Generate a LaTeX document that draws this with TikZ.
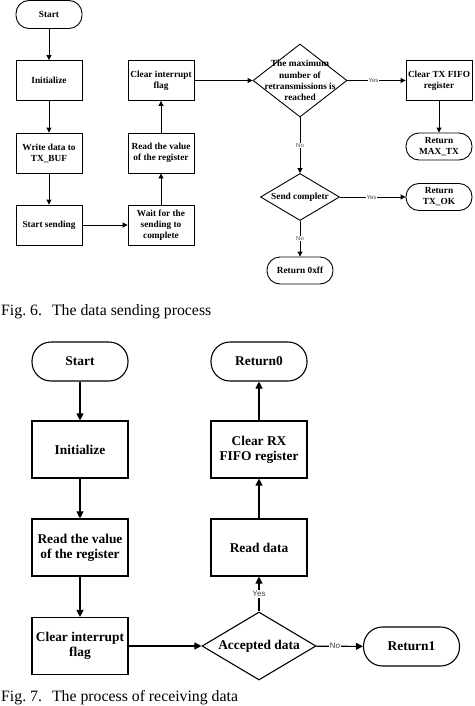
\documentclass[tikz,border=0pt]{standalone}
\usepackage{fontspec}
\setmainfont{Liberation Serif}
\newfontfamily\lblfont{Liberation Sans}
\usetikzlibrary{arrows.meta,shapes.geometric}
\tikzset{
  every picture/.style={x=1pt,y=-1pt},
  sbox/.style={draw,line width=0.9pt,rectangle,minimum width=66pt,minimum height=40pt,inner sep=1pt,align=center,font=\fontsize{9.3}{11}\selectfont\bfseries},
  sterm/.style={sbox,rounded corners=13pt,minimum height=27pt},
  sdia/.style={draw,line width=0.9pt,diamond,inner sep=0pt},
  stxt/.style={inner sep=0pt,align=center,font=\fontsize{9.3}{11.3}\selectfont\bfseries},
  sarr/.style={line width=0.9pt,-{Triangle[length=5pt,width=5pt]}},
  slbl/.style={fill=white,inner sep=0.5pt,font=\lblfont\fontsize{6}{7}\selectfont,text=black!70},
  bbox/.style={draw,line width=1.1pt,rectangle,minimum width=96pt,minimum height=57pt,inner sep=1pt,align=center,font=\fontsize{13.4}{15}\selectfont\bfseries},
  bterm/.style={bbox,rounded corners=19pt,minimum height=39pt},
  bdia/.style={draw,line width=1.1pt,diamond,inner sep=0pt},
  btxt/.style={inner sep=0pt,align=center,font=\fontsize{13.4}{15}\selectfont\bfseries},
  barr/.style={line width=1.1pt,-{Triangle[length=7pt,width=7pt]}},
  blbl/.style={fill=white,inner sep=0.8pt,font=\lblfont\fontsize{8}{9}\selectfont,text=black!75},
  capt/.style={inner sep=0pt,anchor=base west,font=\fontsize{15.8}{17}\selectfont}
}
\begin{document}
\begin{tikzpicture}
\useasboundingbox (0,0) rectangle (474,706);
% ---------- Fig. 6 ----------
\node[sterm,minimum height=28pt] (s) at (49,14.5) {Start};
\node[sbox] (init) at (49,80.5) {Initialize};
\node[sbox] (write) at (49,153) {Write data to\\TX\_BUF};
\node[sbox] (send) at (49,225) {Start sending};
\node[sbox] (wait) at (161,225) {Wait for the\\sending to\\complete};
\node[sbox] (readv) at (161,153) {Read the value\\of the register};
\node[sbox] (clr) at (161,80.5) {Clear interrupt\\flag};
\node[sdia,minimum width=94pt,minimum height=73pt] (max) at (300,80.5) {};
\node[stxt] (maxt) at (max.center) {The maximum\\number of\\retransmissions is\\reached};
\node[sbox] (clrtx) at (439,80.5) {Clear TX FIFO\\register};
\node[sterm] (rmax) at (439,146.5) {Return\\MAX\_TX};
\node[sdia,minimum width=79pt,minimum height=47pt] (comp) at (300,197) {};
\node[stxt] (compt) at (comp.center) {Send completr};
\node[sterm] (rok) at (439,197) {Return\\TX\_OK};
\node[sterm] (rff) at (300,270.5) {Return 0xff};

\draw[sarr] (s) -- (init);
\draw[sarr] (init) -- (write);
\draw[sarr] (write) -- (send);
\draw[sarr] (send) -- (wait);
\draw[sarr] (wait) -- (readv);
\draw[sarr] (readv) -- (clr);
\draw[sarr] (clr) -- (max);
\draw[sarr] (max) -- node[slbl,pos=0.45] {Yes} (clrtx);
\draw[sarr] (clrtx) -- (rmax);
\draw[sarr] (max) -- node[slbl,pos=0.5] {No} (comp);
\draw[sarr] (comp) -- node[slbl,pos=0.48] {Yes} (rok);
\draw[sarr] (comp) -- node[slbl,pos=0.5] {No} (rff);

\node[capt] (cap6) at (1,315) {Fig.\ 6.\hspace{10pt}The data sending process};

% ---------- Fig. 7 ----------
\node[bterm] (s2) at (80,361.5) {Start};
\node[bbox] (init2) at (80,449.5) {Initialize};
\node[bbox] (readv2) at (80,547.5) {Read the value\\of the register};
\node[bbox] (clr2) at (80,646) {Clear interrupt\\flag};
\node[bdia,minimum width=114pt,minimum height=68pt] (acc) at (259,646) {};
\node[btxt] (acct) at (acc.center) {Accepted data};
\node[bterm] (r1) at (411.5,646.5) {Return1};
\node[bbox] (rd) at (259,547.5) {Read data};
\node[bbox] (clrrx) at (259,449.5) {Clear RX\\FIFO register};
\node[bterm] (r0) at (259,361.5) {Return0};

\draw[barr] (s2) -- (init2);
\draw[barr] (init2) -- (readv2);
\draw[barr] (readv2) -- (clr2);
\draw[barr] (clr2) -- (acc);
\draw[barr] (acc) -- node[blbl,pos=0.4] {No} (r1);
\draw[barr] (acc) -- node[blbl,pos=0.5] {Yes} (rd);
\draw[barr] (rd) -- (clrrx);
\draw[barr] (clrrx) -- (r0);

\node[capt] (cap7) at (1,701.5) {Fig.\ 7.\hspace{10pt}The process of receiving data};
\end{tikzpicture}
\end{document}
